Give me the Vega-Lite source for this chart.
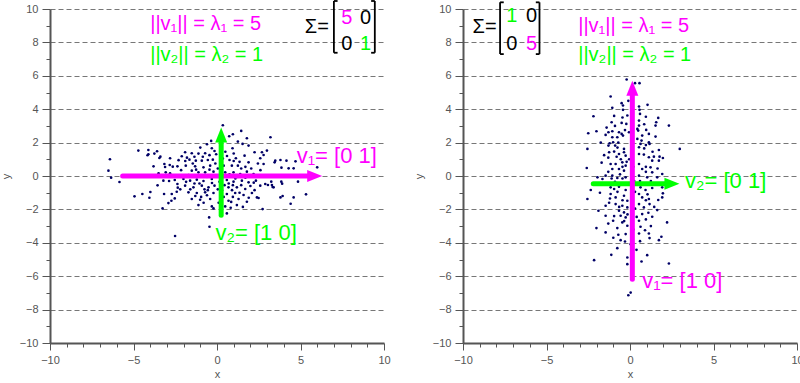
{
  "$schema": "https://vega.github.io/schema/vega-lite/v6.json",
  "padding": {"left": 0, "top": 0, "right": 0, "bottom": 0},
  "background": "white",
  "spacing": 22,
  "config": {
    "view": {"stroke": null},
    "font": "Liberation Sans",
    "axis": {"domainColor": "#555", "domainWidth": 2, "tickColor": "#555", "tickWidth": 1, "labelColor": "#555", "labelFont": "Liberation Sans", "labelFontSize": 11, "titleFont": "Liberation Sans", "titleFontSize": 11, "titleFontWeight": "normal", "titleColor": "#555", "labelOverlap": false, "labelFlush": false},
    "text": {"font": "Liberation Sans"}
  },
  "datasets": {
    "ptsL": [
      {"x":-6.41,"y":1.0},{"x":-6.5,"y":0.32},{"x":-6.34,"y":-0.1},{"x":-5.84,"y":-0.36},{"x":-4.71,"y":1.52},{"x":-4.11,"y":1.56},{"x":-4.16,"y":1.24},{"x":-3.59,"y":1.48},{"x":-3.39,"y":1.16},{"x":-3.45,"y":1.08},{"x":-3.8,"y":0.58},{"x":-3.15,"y":0.72},{"x":-2.81,"y":1.06},{"x":-2.83,"y":0.66},{"x":-2.65,"y":0.56},{"x":-2.37,"y":0.58},{"x":-3.07,"y":0.22},{"x":-2.81,"y":0.16},{"x":-3.5,"y":0.16},{"x":-3.21,"y":-0.28},{"x":-2.87,"y":-0.3},{"x":-2.53,"y":-0.24},{"x":-3.56,"y":-0.56},{"x":-2.37,"y":-0.48},{"x":-2.35,"y":-0.7},{"x":-2.41,"y":-0.94},{"x":-4.47,"y":-1.08},{"x":-3.99,"y":-0.96},{"x":-4.94,"y":-1.22},{"x":-4.05,"y":-1.3},{"x":-3.17,"y":-1.08},{"x":-2.71,"y":-1.08},{"x":-2.53,"y":-1.34},{"x":-2.73,"y":-1.48},{"x":-2.91,"y":-1.62},{"x":-3.26,"y":-1.94},{"x":-2.51,"y":-3.59},{"x":-4.11,"y":1.3},{"x":-3.75,"y":1.34},{"x":-3.11,"y":0.54},
      {"x":0.35,"y":3.04},{"x":0.73,"y":2.38},{"x":1.25,"y":2.06},{"x":1.79,"y":2.26},{"x":1.53,"y":1.92},{"x":1.89,"y":1.82},{"x":2.25,"y":1.42},{"x":0.93,"y":1.66},{"x":-0.31,"y":1.66},{"x":-0.71,"y":1.36},{"x":-1.11,"y":1.34},{"x":-1.51,"y":1.36},{"x":-1.91,"y":1.42},{"x":-2.11,"y":1.18},{"x":-1.65,"y":0.98},{"x":-1.27,"y":0.92},{"x":-0.91,"y":0.92},{"x":-0.55,"y":0.96},{"x":-0.25,"y":0.98},{"x":0.75,"y":0.96},{"x":1.13,"y":1.06},{"x":1.65,"y":1.22},{"x":1.89,"y":0.82},{"x":1.25,"y":0.62},{"x":0.89,"y":0.62},{"x":-0.41,"y":0.62},{"x":-0.81,"y":0.52},{"x":-1.31,"y":0.58},{"x":-1.87,"y":0.62},{"x":-1.51,"y":0.32},{"x":-1.11,"y":0.22},{"x":-0.71,"y":0.22},{"x":-0.21,"y":0.26},{"x":0.49,"y":0.22},{"x":0.99,"y":0.22},{"x":1.39,"y":0.12},{"x":1.79,"y":0.26},{"x":2.19,"y":0.12},{"x":-2.01,"y":-0.18},{"x":-1.61,"y":-0.28},{"x":-1.21,"y":-0.22},{"x":-0.81,"y":-0.3},{"x":-0.31,"y":-0.18},{"x":0.59,"y":-0.24},{"x":0.99,"y":-0.34},{"x":1.49,"y":-0.28},{"x":1.89,"y":-0.38},{"x":2.33,"y":-0.28},{"x":-1.91,"y":-0.58},{"x":-1.41,"y":-0.68},{"x":-0.91,"y":-0.58},{"x":-0.51,"y":-0.68},{"x":-0.15,"y":-0.58},{"x":0.69,"y":-0.68},{"x":1.19,"y":-0.68},{"x":1.69,"y":-0.78},{"x":-1.71,"y":-0.98},{"x":-1.21,"y":-1.02},{"x":-0.71,"y":-0.98},{"x":-0.21,"y":-1.02},{"x":0.59,"y":-1.08},{"x":1.09,"y":-1.02},{"x":1.59,"y":-1.14},{"x":2.09,"y":-1.02},{"x":2.39,"y":-1.28},{"x":-1.51,"y":-1.38},{"x":-1.01,"y":-1.42},{"x":-0.41,"y":-1.38},{"x":0.69,"y":-1.48},{"x":1.29,"y":-1.38},{"x":1.79,"y":-1.54},{"x":-1.11,"y":-1.74},{"x":-0.31,"y":-1.82},{"x":0.49,"y":-1.82},{"x":1.19,"y":-1.74},{"x":-0.21,"y":-1.94},{"x":0.59,"y":-2.24},{"x":-0.47,"y":-2.48},{"x":-0.45,"y":-3.04},
      {"x":-0.05,"y":1.3},{"x":0.5,"y":1.45},{"x":1.0,"y":1.35},{"x":-1.7,"y":0.05},{"x":-0.6,"y":-0.05},{"x":0.15,"y":-0.35},{"x":1.25,"y":-0.05},{"x":0.4,"y":0.62},{"x":-0.95,"y":-1.25},{"x":0.2,"y":-1.3},{"x":1.55,"y":-1.85},{"x":2.6,"y":0.35},{"x":-2.3,"y":0.95},{"x":0.05,"y":0.45},{"x":-0.35,"y":2.1},{"x":0.95,"y":2.5},{"x":1.45,"y":2.7},{"x":0.3,"y":-0.85},{"x":-1.35,"y":-0.45},{"x":0.82,"y":-1.9},{"x":1.0,"y":0.9},{"x":-0.6,"y":1.9},{"x":-1.0,"y":1.7},{"x":-2.2,"y":-0.8},{"x":2.0,"y":-0.6},{"x":1.45,"y":0.45},{"x":-0.1,"y":0.75},{"x":-1.9,"y":0.9},{"x":0.7,"y":-0.45},{"x":-0.75,"y":-0.8},
      {"x":-1.8,"y":1.1},{"x":-1.35,"y":1.15},{"x":-0.85,"y":1.15},{"x":-0.45,"y":1.25},{"x":0.6,"y":1.2},{"x":1.35,"y":0.85},{"x":1.7,"y":0.55},{"x":2.05,"y":0.45},{"x":-2.15,"y":0.35},{"x":-1.25,"y":0.38},{"x":-0.45,"y":0.38},{"x":0.25,"y":0.05},{"x":0.75,"y":0.1},{"x":1.1,"y":-0.15},{"x":1.7,"y":-0.1},{"x":-1.85,"y":-0.35},{"x":-1.05,"y":-0.45},{"x":-0.3,"y":-0.42},{"x":0.45,"y":-0.55},{"x":0.95,"y":-0.55},{"x":1.45,"y":-0.55},{"x":2.25,"y":-0.85},{"x":-1.6,"y":-0.8},{"x":-0.55,"y":-0.85},{"x":0.05,"y":-0.8},{"x":0.9,"y":-0.85},{"x":1.35,"y":-1.0},{"x":-1.3,"y":-1.2},{"x":-0.6,"y":-1.15},{"x":0.4,"y":-1.25},{"x":0.95,"y":-1.25},{"x":1.9,"y":-1.3},{"x":-0.8,"y":-1.6},{"x":0.1,"y":-1.6},{"x":0.85,"y":-1.55},{"x":-0.15,"y":1.5},{"x":0.35,"y":1.05},{"x":-1.45,"y":0.75},{"x":2.45,"y":0.75},{"x":2.2,"y":-0.4},
      {"x":3.2,"y":2.32},{"x":2.69,"y":1.42},{"x":2.79,"y":1.26},{"x":2.99,"y":1.52},{"x":2.59,"y":1.06},{"x":2.79,"y":0.72},{"x":3.49,"y":0.92},{"x":3.45,"y":0.82},{"x":3.8,"y":0.96},{"x":4.29,"y":0.46},{"x":4.59,"y":0.46},{"x":4.16,"y":0.92},{"x":4.7,"y":0.88},{"x":6.0,"y":0.52},{"x":2.59,"y":-0.58},{"x":2.89,"y":-0.48},{"x":3.05,"y":-0.54},{"x":3.25,"y":-0.34},{"x":3.29,"y":-0.54},{"x":3.39,"y":-0.68},{"x":3.85,"y":-0.34},{"x":4.85,"y":-0.34},{"x":2.49,"y":-1.32},{"x":3.8,"y":-1.28},{"x":3.93,"y":-1.2},{"x":4.59,"y":-1.28},{"x":5.33,"y":-1.1},{"x":4.41,"y":-1.66},{"x":2.73,"y":-1.98},{"x":3.86,"y":0.5},{"x":3.33,"y":-0.66},{"x":3.9,"y":-0.46}
    ],
    "ptsR": [
      {"x":-0.2,"y":5.78},{"x":0.3,"y":5.56},{"x":0.57,"y":5.56},{"x":-1.16,"y":4.76},{"x":-0.5,"y":4.36},{"x":-0.42,"y":4.22},{"x":-0.42,"y":3.96},{"x":0.54,"y":4.16},{"x":0.57,"y":3.96},{"x":1.05,"y":4.26},{"x":-2.19,"y":3.58},{"x":-1.06,"y":4.08},{"x":-0.16,"y":3.62},{"x":0.6,"y":3.72},{"x":-1.1,"y":3.22},{"x":-0.5,"y":3.18},{"x":-0.22,"y":3.12},{"x":0.54,"y":3.32},{"x":0.54,"y":3.02},{"x":0.44,"y":2.82},{"x":0.49,"y":2.72},{"x":1.69,"y":3.48},{"x":1.57,"y":3.22},{"x":2.33,"y":3.02},{"x":0.97,"y":2.76},{"x":1.53,"y":3.02},{"x":-2.5,"y":2.56},{"x":-2.01,"y":2.68},{"x":-1.46,"y":2.46},{"x":-1.29,"y":2.62},{"x":-1.06,"y":2.68},{"x":-0.66,"y":2.62},{"x":-0.5,"y":2.52},{"x":-0.42,"y":2.42},{"x":-0.06,"y":2.62},{"x":-1.06,"y":2.32},{"x":-0.76,"y":2.32},{"x":0.73,"y":2.42},{"x":1.13,"y":2.52},{"x":1.53,"y":2.36},{"x":0.69,"y":2.12},{"x":0.44,"y":2.22},{"x":-1.22,"y":1.96},{"x":-1.01,"y":2.02},{"x":-0.89,"y":1.82},{"x":-1.29,"y":1.82},{"x":1.13,"y":2.02},{"x":1.17,"y":1.92},{"x":0.63,"y":1.92},{"x":0.54,"y":1.72},{"x":-2.55,"y":1.62},{"x":-0.36,"y":1.62},{"x":1.73,"y":1.56},{"x":2.98,"y":1.62},{"x":-1.75,"y":2.0},{"x":-0.95,"y":1.46},
      {"x":-1.25,"y":1.42},{"x":-0.66,"y":1.32},{"x":-0.36,"y":1.42},{"x":-0.26,"y":1.22},{"x":0.54,"y":1.32},{"x":0.83,"y":1.28},{"x":1.13,"y":1.12},{"x":1.43,"y":1.16},{"x":1.77,"y":1.16},{"x":1.97,"y":1.08},{"x":1.33,"y":0.92},{"x":1.73,"y":0.92},{"x":-2.59,"y":0.48},{"x":-1.16,"y":0.72},{"x":-0.86,"y":0.72},{"x":-0.46,"y":0.82},{"x":-0.26,"y":0.62},{"x":-1.06,"y":0.42},{"x":-0.66,"y":0.42},{"x":-0.36,"y":0.32},{"x":0.54,"y":0.72},{"x":0.73,"y":0.42},{"x":1.23,"y":0.52},{"x":1.33,"y":0.22},{"x":1.93,"y":0.12},{"x":-1.95,"y":-0.08},{"x":-1.65,"y":-0.18},{"x":-1.46,"y":0.02},{"x":-1.06,"y":0.02},{"x":-0.76,"y":-0.12},{"x":-0.26,"y":-0.08},{"x":0.54,"y":0.02},{"x":1.03,"y":-0.08},{"x":1.63,"y":-0.08},{"x":-2.35,"y":-0.84},{"x":-1.16,"y":-0.68},{"x":-0.95,"y":-0.78},{"x":-0.66,"y":-0.64},{"x":-0.26,"y":-0.84},{"x":0.63,"y":-0.68},{"x":0.93,"y":-0.84},{"x":1.33,"y":-0.72},{"x":1.93,"y":-0.68},{"x":-2.55,"y":-1.38},{"x":-1.16,"y":-1.08},{"x":-0.86,"y":-1.28},{"x":-0.36,"y":-1.18},{"x":-0.16,"y":-1.48},{"x":0.54,"y":-1.08},{"x":0.73,"y":-1.28},{"x":1.13,"y":-1.38},{"x":1.69,"y":-1.44},{"x":1.97,"y":-1.04},{"x":1.93,"y":-1.28},{"x":-1.46,"y":-1.78},{"x":-0.86,"y":-1.68},{"x":-0.46,"y":-1.78},{"x":-0.16,"y":-1.88},{"x":0.54,"y":-1.68},{"x":0.83,"y":-1.88},{"x":1.17,"y":-1.68},{"x":1.63,"y":-2.04},{"x":-1.89,"y":-2.08},{"x":-0.66,"y":-2.08},{"x":-0.36,"y":-2.18},{"x":-1.46,"y":-2.38},{"x":-0.56,"y":-2.38},{"x":-0.26,"y":-2.48},{"x":0.73,"y":-2.28},{"x":1.33,"y":-2.44},{"x":-1.01,"y":-2.68},{"x":-0.46,"y":-2.78},{"x":0.54,"y":-2.68},{"x":2.22,"y":-2.78},{"x":-2.01,"y":-3.12},{"x":-0.76,"y":-3.12},{"x":-0.16,"y":-2.98},{"x":0.63,"y":-3.04},
      {"x":-1.46,"y":-3.38},{"x":-0.7,"y":-3.52},{"x":-0.26,"y":-3.48},{"x":0.54,"y":-3.44},{"x":1.13,"y":-3.44},{"x":1.17,"y":-3.72},{"x":1.88,"y":-3.64},{"x":1.73,"y":-3.84},{"x":-0.56,"y":-3.84},{"x":-0.3,"y":-3.92},{"x":0.04,"y":-4.08},{"x":-0.76,"y":-4.32},{"x":0.39,"y":-4.42},{"x":-1.12,"y":-4.72},{"x":1.03,"y":-4.74},{"x":-0.16,"y":-4.88},{"x":-2.15,"y":-5.04},{"x":0.69,"y":-5.12},{"x":-0.16,"y":-5.28},{"x":2.33,"y":-5.24},{"x":0.04,"y":-6.98},{"x":-0.1,"y":-7.14},
      {"x":-0.6,"y":0.1},{"x":-0.05,"y":1.0},{"x":0.25,"y":-0.3},{"x":-0.9,"y":-0.35},{"x":0.95,"y":0.25},{"x":-0.45,"y":-1.45},{"x":0.3,"y":-1.95},{"x":-1.3,"y":1.1},{"x":0.85,"y":1.65},{"x":-0.7,"y":2.0},{"x":0.2,"y":0.55},{"x":-0.15,"y":-2.3},{"x":0.95,"y":-2.6},{"x":-1.2,"y":-1.35},{"x":1.5,"y":-0.45},{"x":-1.7,"y":0.8},{"x":-0.45,"y":3.5},{"x":1.25,"y":-3.0},
      {"x":-0.8,"y":1.15},{"x":-0.2,"y":0.85},{"x":0.95,"y":0.55},{"x":-1.3,"y":0.25},{"x":-0.45,"y":-0.15},{"x":1.25,"y":-0.3},{"x":-1.5,"y":-0.5},{"x":-0.75,"y":-0.95},{"x":0.3,"y":-0.95},{"x":1.05,"y":-1.1},{"x":-1.25,"y":-1.6},{"x":-0.65,"y":-1.85},{"x":0.95,"y":-1.45},{"x":-0.95,"y":-2.4},{"x":0.4,"y":-2.45},{"x":1.1,"y":-2.2},{"x":-0.35,"y":-2.7},{"x":-1.3,"y":-2.85},{"x":0.2,"y":-3.2},{"x":0.9,"y":-3.25},{"x":-1.0,"y":-3.7},{"x":0.6,"y":-3.9},{"x":-0.9,"y":3.0},{"x":-0.3,"y":2.75},{"x":0.85,"y":3.1},{"x":-1.4,"y":2.9},{"x":-0.95,"y":3.6},{"x":0.95,"y":3.55},{"x":-0.1,"y":4.5},{"x":-0.75,"y":1.7},{"x":0.95,"y":1.85},{"x":1.35,"y":1.45},{"x":-1.55,"y":1.25},{"x":-0.55,"y":1.0},{"x":0.6,"y":-0.3},{"x":-1.1,"y":-0.15},{"x":1.65,"y":0.45},{"x":-1.8,"y":-1.0},{"x":1.45,"y":-1.85},{"x":-0.45,"y":0.55}
    ],
    "arrowsL": [
      {"vec":"v1","dir":"right","x1":-5.65,"y1":0,"xe":5.6,"ye":0,"x2":6.3,"y2":0},
      {"vec":"v2","dir":"up","x1":0.25,"y1":-2.35,"xe":0.25,"ye":2.2,"x2":0.25,"y2":2.9}
    ],
    "arrowsR": [
      {"vec":"v2","dir":"right","x1":-2.2,"y1":-0.46,"xe":2.3,"ye":-0.46,"x2":2.96,"y2":-0.46},
      {"vec":"v1","dir":"up","x1":0.14,"y1":-6.19,"xe":0.14,"ye":5.0,"x2":0.14,"y2":5.7}
    ],
    "textL": [
      {"kind":"head","label":"||v₁|| = λ₁ = 5","x":-4.0,"y":9.1,"vec":"v1"},
      {"kind":"head","label":"||v₂|| = λ₂ = 1","x":-4.0,"y":7.25,"vec":"v2"},
      {"kind":"vlab","label":"v₁= [0 1]","x":4.77,"y":1.2,"vec":"v1"},
      {"kind":"vlab","label":"v₂= [1 0]","x":-0.09,"y":-3.41,"vec":"v2"},
      {"kind":"mat","label":"Σ=","x":5.98,"y":8.94,"vec":"none"},
      {"kind":"mat","label":"5","x":7.78,"y":9.48,"vec":"v1"},
      {"kind":"mat","label":"0","x":8.9,"y":9.48,"vec":"none"},
      {"kind":"mat","label":"0","x":7.78,"y":7.93,"vec":"none"},
      {"kind":"mat","label":"1","x":8.9,"y":7.93,"vec":"v2"}
    ],
    "textR": [
      {"kind":"head","label":"||v₁|| = λ₁ = 5","x":-3.1,"y":9.0,"vec":"v1"},
      {"kind":"head","label":"||v₂|| = λ₂ = 1","x":-3.1,"y":7.22,"vec":"v2"},
      {"kind":"vlab","label":"v₂= [0 1]","x":3.29,"y":-0.28,"vec":"v2"},
      {"kind":"vlab","label":"v₁= [1 0]","x":0.73,"y":-6.28,"vec":"v1"},
      {"kind":"mat","label":"Σ=","x":-8.71,"y":8.9,"vec":"none"},
      {"kind":"mat","label":"1","x":-7.08,"y":9.6,"vec":"v2"},
      {"kind":"mat","label":"0","x":-5.9,"y":9.6,"vec":"none"},
      {"kind":"mat","label":"0","x":-7.08,"y":7.9,"vec":"none"},
      {"kind":"mat","label":"5","x":-5.9,"y":7.9,"vec":"v1"}
    ],
    "brkL": [
      {"x1":7.0,"y1":10.48,"x2":7.0,"y2":7.38},{"x1":7.0,"y1":10.48,"x2":7.22,"y2":10.48},{"x1":7.0,"y1":7.38,"x2":7.22,"y2":7.38},
      {"x1":9.45,"y1":10.48,"x2":9.45,"y2":7.38},{"x1":9.45,"y1":10.48,"x2":9.23,"y2":10.48},{"x1":9.45,"y1":7.38,"x2":9.23,"y2":7.38}
    ],
    "brkR": [
      {"x1":-7.78,"y1":10.4,"x2":-7.78,"y2":7.3},{"x1":-7.78,"y1":10.4,"x2":-7.56,"y2":10.4},{"x1":-7.78,"y1":7.3,"x2":-7.56,"y2":7.3},
      {"x1":-5.42,"y1":10.4,"x2":-5.42,"y2":7.3},{"x1":-5.42,"y1":10.4,"x2":-5.64,"y2":10.4},{"x1":-5.42,"y1":7.3,"x2":-5.64,"y2":7.3}
    ]
  },
  "hconcat": [
    {
      "width": 334, "height": 334,
      "layer": [
        {"data": {"name": "ptsL"}, "mark": {"type": "point", "filled": true, "size": 7, "color": "#000066", "opacity": 1, "strokeWidth": 0},
         "encoding": {
           "x": {"field": "x", "type": "quantitative", "title": "x", "scale": {"domain": [-10, 10], "nice": false}, "axis": {"format": "d", "tickCount": 200, "labelOverlap": false, "values": [-10,-9.5,-9,-8.5,-8,-7.5,-7,-6.5,-6,-5.5,-5,-4.5,-4,-3.5,-3,-2.5,-2,-1.5,-1,-0.5,0,0.5,1,1.5,2,2.5,3,3.5,4,4.5,5,5.5,6,6.5,7,7.5,8,8.5,9,9.5,10], "labelExpr": "datum.value % 5 === 0 ? datum.label : ''", "tickSize": {"condition": {"test": "datum.value % 5 === 0", "value": 7}, "value": 4}, "grid": false, "labelPadding": 4, "titlePadding": 3}},
           "y": {"field": "y", "type": "quantitative", "title": "y", "scale": {"domain": [-10, 10], "nice": false}, "axis": {"format": "d", "tickCount": 200, "labelOverlap": false, "values": [-10,-9,-8,-7,-6,-5,-4,-3,-2,-1,0,1,2,3,4,5,6,7,8,9,10], "labelExpr": "datum.value % 2 === 0 ? datum.label : ''", "tickSize": {"condition": {"test": "datum.value % 2 === 0", "value": 8}, "value": 4}, "grid": true, "gridDash": [5, 3], "gridColor": "#777", "gridOpacity": {"condition": {"test": "datum.value % 2 === 0", "value": 1}, "value": 0}, "labelPadding": 4, "titlePadding": 8}}
         }},
        {"data": {"name": "arrowsL"}, "mark": {"type": "rule", "strokeWidth": 5, "strokeCap": "round"},
         "encoding": {"x": {"field": "x1", "type": "quantitative", "title": "x"}, "y": {"field": "y1", "type": "quantitative", "title": "y"}, "x2": {"field": "xe"}, "y2": {"field": "ye"},
           "color": {"field": "vec", "type": "nominal", "scale": {"domain": ["v1", "v2", "none"], "range": ["#ff00ff", "#00ff00", "#000000"]}, "legend": null}}},
        {"data": {"name": "arrowsL"}, "mark": {"type": "point", "filled": true, "size": 225, "opacity": 1, "strokeWidth": 0},
         "encoding": {"x": {"field": "x2", "type": "quantitative", "title": "x"}, "y": {"field": "y2", "type": "quantitative", "title": "y"},
           "shape": {"field": "dir", "type": "nominal", "scale": {"domain": ["right", "up"], "range": ["M0,0L-2,-0.8L-2,0.8Z", "M0,0L-0.8,2L0.8,2Z"]}, "legend": null},
           "color": {"field": "vec", "type": "nominal", "legend": null}}},
        {"data": {"name": "textL"}, "transform": [{"filter": "datum.kind === 'head'"}], "mark": {"type": "text", "align": "left", "baseline": "middle", "fontSize": 20},
         "encoding": {"x": {"field": "x", "type": "quantitative", "title": "x"}, "y": {"field": "y", "type": "quantitative", "title": "y"}, "text": {"field": "label"}, "color": {"field": "vec", "type": "nominal", "legend": null}}},
        {"data": {"name": "textL"}, "transform": [{"filter": "datum.kind === 'vlab'"}], "mark": {"type": "text", "align": "left", "baseline": "middle", "fontSize": 22},
         "encoding": {"x": {"field": "x", "type": "quantitative", "title": "x"}, "y": {"field": "y", "type": "quantitative", "title": "y"}, "text": {"field": "label"}, "color": {"field": "vec", "type": "nominal", "legend": null}}},
        {"data": {"name": "textL"}, "transform": [{"filter": "datum.kind === 'mat'"}], "mark": {"type": "text", "align": "center", "baseline": "middle", "fontSize": 20},
         "encoding": {"x": {"field": "x", "type": "quantitative", "title": "x"}, "y": {"field": "y", "type": "quantitative", "title": "y"}, "text": {"field": "label"}, "color": {"field": "vec", "type": "nominal", "legend": null}}},
        {"data": {"name": "brkL"}, "mark": {"type": "rule", "strokeWidth": 1.8, "color": "#000000"},
         "encoding": {"x": {"field": "x1", "type": "quantitative", "title": "x"}, "y": {"field": "y1", "type": "quantitative", "title": "y"}, "x2": {"field": "x2"}, "y2": {"field": "y2"}}}
      ]
    },
    {
      "width": 334, "height": 334,
      "layer": [
        {"data": {"name": "ptsR"}, "mark": {"type": "point", "filled": true, "size": 7, "color": "#000066", "opacity": 1, "strokeWidth": 0},
         "encoding": {
           "x": {"field": "x", "type": "quantitative", "title": "x", "scale": {"domain": [-10, 10], "nice": false}, "axis": {"format": "d", "tickCount": 200, "labelOverlap": false, "values": [-10,-9.5,-9,-8.5,-8,-7.5,-7,-6.5,-6,-5.5,-5,-4.5,-4,-3.5,-3,-2.5,-2,-1.5,-1,-0.5,0,0.5,1,1.5,2,2.5,3,3.5,4,4.5,5,5.5,6,6.5,7,7.5,8,8.5,9,9.5,10], "labelExpr": "datum.value % 5 === 0 ? datum.label : ''", "tickSize": {"condition": {"test": "datum.value % 5 === 0", "value": 7}, "value": 4}, "grid": false, "labelPadding": 4, "titlePadding": 3}},
           "y": {"field": "y", "type": "quantitative", "title": "y", "scale": {"domain": [-10, 10], "nice": false}, "axis": {"format": "d", "tickCount": 200, "labelOverlap": false, "values": [-10,-9,-8,-7,-6,-5,-4,-3,-2,-1,0,1,2,3,4,5,6,7,8,9,10], "labelExpr": "datum.value % 2 === 0 ? datum.label : ''", "tickSize": {"condition": {"test": "datum.value % 2 === 0", "value": 8}, "value": 4}, "grid": true, "gridDash": [5, 3], "gridColor": "#777", "gridOpacity": {"condition": {"test": "datum.value % 2 === 0", "value": 1}, "value": 0}, "labelPadding": 4, "titlePadding": 8}}
         }},
        {"data": {"name": "arrowsR"}, "mark": {"type": "rule", "strokeWidth": 5, "strokeCap": "round"},
         "encoding": {"x": {"field": "x1", "type": "quantitative", "title": "x"}, "y": {"field": "y1", "type": "quantitative", "title": "y"}, "x2": {"field": "xe"}, "y2": {"field": "ye"},
           "color": {"field": "vec", "type": "nominal", "scale": {"domain": ["v1", "v2", "none"], "range": ["#ff00ff", "#00ff00", "#000000"]}, "legend": null}}},
        {"data": {"name": "arrowsR"}, "mark": {"type": "point", "filled": true, "size": 225, "opacity": 1, "strokeWidth": 0},
         "encoding": {"x": {"field": "x2", "type": "quantitative", "title": "x"}, "y": {"field": "y2", "type": "quantitative", "title": "y"},
           "shape": {"field": "dir", "type": "nominal", "scale": {"domain": ["right", "up"], "range": ["M0,0L-2,-0.8L-2,0.8Z", "M0,0L-0.8,2L0.8,2Z"]}, "legend": null},
           "color": {"field": "vec", "type": "nominal", "legend": null}}},
        {"data": {"name": "textR"}, "transform": [{"filter": "datum.kind === 'head'"}], "mark": {"type": "text", "align": "left", "baseline": "middle", "fontSize": 20},
         "encoding": {"x": {"field": "x", "type": "quantitative", "title": "x"}, "y": {"field": "y", "type": "quantitative", "title": "y"}, "text": {"field": "label"}, "color": {"field": "vec", "type": "nominal", "legend": null}}},
        {"data": {"name": "textR"}, "transform": [{"filter": "datum.kind === 'vlab'"}], "mark": {"type": "text", "align": "left", "baseline": "middle", "fontSize": 22},
         "encoding": {"x": {"field": "x", "type": "quantitative", "title": "x"}, "y": {"field": "y", "type": "quantitative", "title": "y"}, "text": {"field": "label"}, "color": {"field": "vec", "type": "nominal", "legend": null}}},
        {"data": {"name": "textR"}, "transform": [{"filter": "datum.kind === 'mat'"}], "mark": {"type": "text", "align": "center", "baseline": "middle", "fontSize": 20},
         "encoding": {"x": {"field": "x", "type": "quantitative", "title": "x"}, "y": {"field": "y", "type": "quantitative", "title": "y"}, "text": {"field": "label"}, "color": {"field": "vec", "type": "nominal", "legend": null}}},
        {"data": {"name": "brkR"}, "mark": {"type": "rule", "strokeWidth": 1.8, "color": "#000000"},
         "encoding": {"x": {"field": "x1", "type": "quantitative", "title": "x"}, "y": {"field": "y1", "type": "quantitative", "title": "y"}, "x2": {"field": "x2"}, "y2": {"field": "y2"}}}
      ]
    }
  ]
}
